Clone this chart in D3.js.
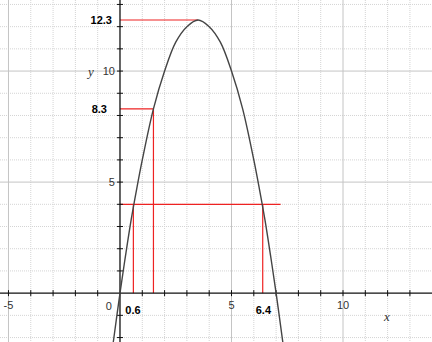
<!DOCTYPE html>
<html><head><meta charset="utf-8">
<script src="https://cdn.jsdelivr.net/npm/d3@7"></script>
<style>body{margin:0;background:#fff}svg{display:block}</style>
</head><body>
<script>
// Curve readings (x, y) from the picture
const curveX = [-0.3, 0, 0.25, 0.5, 0.75, 1, 1.5, 2, 2.5, 3, 3.5, 4, 4.5, 5, 5.5, 6, 6.25, 6.5, 6.75, 7, 7.3];
const curveY = [-2.2, 0, 1.7, 3.3, 4.7, 6, 8.3, 10, 11.3, 12, 12.3, 12, 11.3, 10, 8.3, 6, 4.7, 3.3, 1.7, 0, -2.2];
// Highlighted readings
const markX = [0.6, 1.5, 3.5, 6.4];
const markY = [4, 8.3, 12.3, 4];
const guideY = 4;
const guideEndX = 7.2;
const xTickLabels = [-5, 5, 10];
const yTickLabels = [5, 10];
const pointLabels = ["0.6", "6.4"];
const valueLabels = ["12.3", "8.3"];

const W = 432, H = 342;
const x = d3.scaleLinear().domain([-5.38, 13.99]).range([0, W]);
const y = d3.scaleLinear().domain([13.2, -2.2]).range([0, H]);

const svg = d3.select("body").append("svg").attr("width", W).attr("height", H);

// grid
const xs = d3.range(-5, 14, 1), ys = d3.range(-2, 14, 1);
svg.append("g").selectAll("line").data(xs.filter(d => d % 5 !== 0)).join("line")
  .attr("x1", d => x(d)).attr("x2", d => x(d)).attr("y1", 0).attr("y2", H)
  .attr("stroke", "#d4d4d4").attr("stroke-dasharray", "1,1");
svg.append("g").selectAll("line").data(ys.filter(d => d % 5 !== 0)).join("line")
  .attr("y1", d => y(d)).attr("y2", d => y(d)).attr("x1", 0).attr("x2", W)
  .attr("stroke", "#d4d4d4").attr("stroke-dasharray", "1,1");
svg.append("g").selectAll("line").data(xs.filter(d => d % 5 === 0 && d !== 0)).join("line")
  .attr("x1", d => x(d)).attr("x2", d => x(d)).attr("y1", 0).attr("y2", H)
  .attr("stroke", "#c4c4c4");
svg.append("g").selectAll("line").data(ys.filter(d => d % 5 === 0 && d !== 0)).join("line")
  .attr("y1", d => y(d)).attr("y2", d => y(d)).attr("x1", 0).attr("x2", W)
  .attr("stroke", "#c4c4c4");

// red guides
const red = "#ee2222";
const g = svg.append("g").attr("stroke", red).attr("stroke-width", 1.2);
g.append("line").attr("x1", x(0)).attr("x2", x(markX[2])).attr("y1", y(markY[2])).attr("y2", y(markY[2]));
g.append("line").attr("x1", x(0)).attr("x2", x(markX[1])).attr("y1", y(markY[1])).attr("y2", y(markY[1]));
g.append("line").attr("x1", x(markX[1])).attr("x2", x(markX[1])).attr("y1", y(markY[1])).attr("y2", y(0));
g.append("line").attr("x1", x(0)).attr("x2", x(guideEndX)).attr("y1", y(guideY)).attr("y2", y(guideY));
g.append("line").attr("x1", x(markX[0])).attr("x2", x(markX[0])).attr("y1", y(markY[0])).attr("y2", y(0));
g.append("line").attr("x1", x(markX[3])).attr("x2", x(markX[3])).attr("y1", y(markY[3])).attr("y2", y(0));

// axes
svg.append("line").attr("x1", 0).attr("x2", W).attr("y1", y(0)).attr("y2", y(0)).attr("stroke", "#111").attr("stroke-width", 1.3);
svg.append("line").attr("x1", x(0)).attr("x2", x(0)).attr("y1", 0).attr("y2", H).attr("stroke", "#111").attr("stroke-width", 1.3);
svg.append("g").selectAll("line").data(xs.filter(d => d !== 0)).join("line")
  .attr("x1", d => x(d)).attr("x2", d => x(d)).attr("y1", y(0) - 3).attr("y2", y(0) + 3).attr("stroke", "#111");
svg.append("g").selectAll("line").data(ys.filter(d => d !== 0)).join("line")
  .attr("y1", d => y(d)).attr("y2", d => y(d)).attr("x1", x(0) - 3).attr("x2", x(0) + 3).attr("stroke", "#111");

// curve
const pts = curveX.map((d, i) => [d, curveY[i]]);
svg.append("path").datum(pts)
  .attr("d", d3.line().x(d => x(d[0])).y(d => y(d[1])).curve(d3.curveCatmullRom))
  .attr("fill", "none").attr("stroke", "#444").attr("stroke-width", 1.4);

// tick labels
const font = "Liberation Sans, Arial, sans-serif";
svg.append("g").selectAll("text").data(xTickLabels).join("text")
  .attr("x", d => x(d)).attr("y", y(0) + 16).attr("text-anchor", "middle")
  .attr("font-family", font).attr("font-size", 11).attr("fill", "#333").text(d => d);
svg.append("g").selectAll("text").data(yTickLabels).join("text")
  .attr("x", x(0) - 5).attr("y", d => y(d) + 4).attr("text-anchor", "end")
  .attr("font-family", font).attr("font-size", 11).attr("fill", "#333").text(d => d);
svg.append("text").attr("x", x(0) - 8).attr("y", y(0) + 17).attr("text-anchor", "end")
  .attr("font-family", font).attr("font-size", 11).attr("fill", "#333").text("0");

// bold value labels
svg.append("text").attr("x", x(markX[0]) - 8).attr("y", y(0) + 21)
  .attr("font-family", font).attr("font-size", 11).attr("font-weight", "bold").text(pointLabels[0]);
svg.append("text").attr("x", x(markX[3]) - 7).attr("y", y(0) + 21)
  .attr("font-family", font).attr("font-size", 11).attr("font-weight", "bold").text(pointLabels[1]);
svg.append("text").attr("x", x(0) - 8).attr("y", y(markY[2]) + 4).attr("text-anchor", "end")
  .attr("font-family", font).attr("font-size", 11).attr("font-weight", "bold").text(valueLabels[0]);
svg.append("text").attr("x", x(0) - 13).attr("y", y(markY[1]) + 4).attr("text-anchor", "end")
  .attr("font-family", font).attr("font-size", 11).attr("font-weight", "bold").text(valueLabels[1]);

// axis names
svg.append("text").attr("x", 88).attr("y", 76).attr("font-family", "Liberation Serif, Times New Roman, serif")
  .attr("font-style", "italic").attr("font-size", 13).attr("fill", "#333").text("y");
svg.append("text").attr("x", 384).attr("y", 321).attr("font-family", "Liberation Serif, Times New Roman, serif")
  .attr("font-style", "italic").attr("font-size", 13).attr("fill", "#333").text("x");
</script>
</body></html>
